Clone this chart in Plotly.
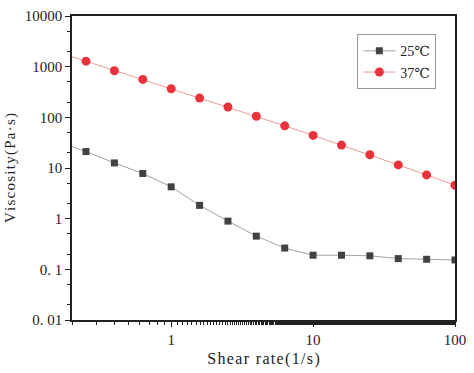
import plotly.graph_objects as go

shear_rate = [0.158, 0.251, 0.398, 0.631, 1.0, 1.585, 2.512, 3.981, 6.31, 10.0,
              15.85, 25.12, 39.81, 63.1, 100.0]
visc_25 = [33, 21.1, 12.6, 7.8, 4.25, 1.83, 0.895, 0.452, 0.263, 0.19,
           0.19, 0.185, 0.163, 0.158, 0.153]
visc_37 = [1950, 1283, 830, 560, 366, 240, 160, 105, 68, 44,
           28.3, 18.3, 11.5, 7.3, 4.57]
series_names = ["25℃", "37℃"]
y_tickvals = [0.01, 0.1, 1, 10, 100, 1000, 10000]
y_ticktext = ["0. 01", "0. 1", "1", "10", "100", "1000", "10000"]
x_tickvals = [1, 10, 100]
x_ticktext = ["1", "10", "100"]

font_family = "Liberation Serif, DejaVu Serif, serif"
sp = "\u200a"
x_title = sp.join("Shear rate(1/s)")
y_title = sp.join("Viscosity(Pa·s)")

fig = go.Figure()
fig.add_trace(go.Scatter(
    x=shear_rate, y=visc_25, name=series_names[0], mode="lines+markers",
    line=dict(color="#a0a0a0", width=1),
    marker=dict(symbol="square", size=7, color="#424242"),
))
fig.add_trace(go.Scatter(
    x=shear_rate, y=visc_37, name=series_names[1], mode="lines+markers",
    line=dict(color="#ec9a9a", width=1),
    marker=dict(symbol="circle", size=9, color="#e8333c"),
))

fig.update_layout(
    width=474, height=373,
    margin=dict(l=68, r=14, t=8, b=49),
    paper_bgcolor="white", plot_bgcolor="white",
    font=dict(family=font_family, size=15, color="#222"),
    showlegend=True,
    legend=dict(
        x=0.745, y=0.94, xanchor="left", yanchor="top",
        bgcolor="white", bordercolor="#999", borderwidth=1,
        font=dict(family=font_family, size=14, color="#222"),
        itemwidth=32, tracegroupgap=0,
    ),
)
fig.update_xaxes(
    type="log", range=[-0.699, 2],
    tickvals=x_tickvals, ticktext=x_ticktext,
    ticks="outside", ticklen=5, tickwidth=1.2, tickcolor="#222",
    minor=dict(ticks="outside", ticklen=3, tickwidth=1, tickcolor="#222", showgrid=False),
    showline=True, linecolor="#222", linewidth=1.5, mirror=True,
    showgrid=False, zeroline=False,
    title=dict(text=x_title, font=dict(size=16, family=font_family), standoff=6),
    tickfont=dict(size=15),
)
fig.update_yaxes(
    type="log", range=[-2, 4],
    tickvals=y_tickvals, ticktext=y_ticktext,
    ticks="outside", ticklen=5, tickwidth=1.2, tickcolor="#222",
    minor=dict(ticks="outside", ticklen=3, tickwidth=1, tickcolor="#222", showgrid=False),
    showline=True, linecolor="#222", linewidth=1.5, mirror=True,
    showgrid=False, zeroline=False,
    title=dict(text=y_title, font=dict(size=15, family=font_family), standoff=6),
    tickfont=dict(size=15),
)

fig.write_html(
    "out.html",
    config={"displayModeBar": False},
    post_script="document.body.style.margin='0';document.body.style.overflow='hidden';",
)
